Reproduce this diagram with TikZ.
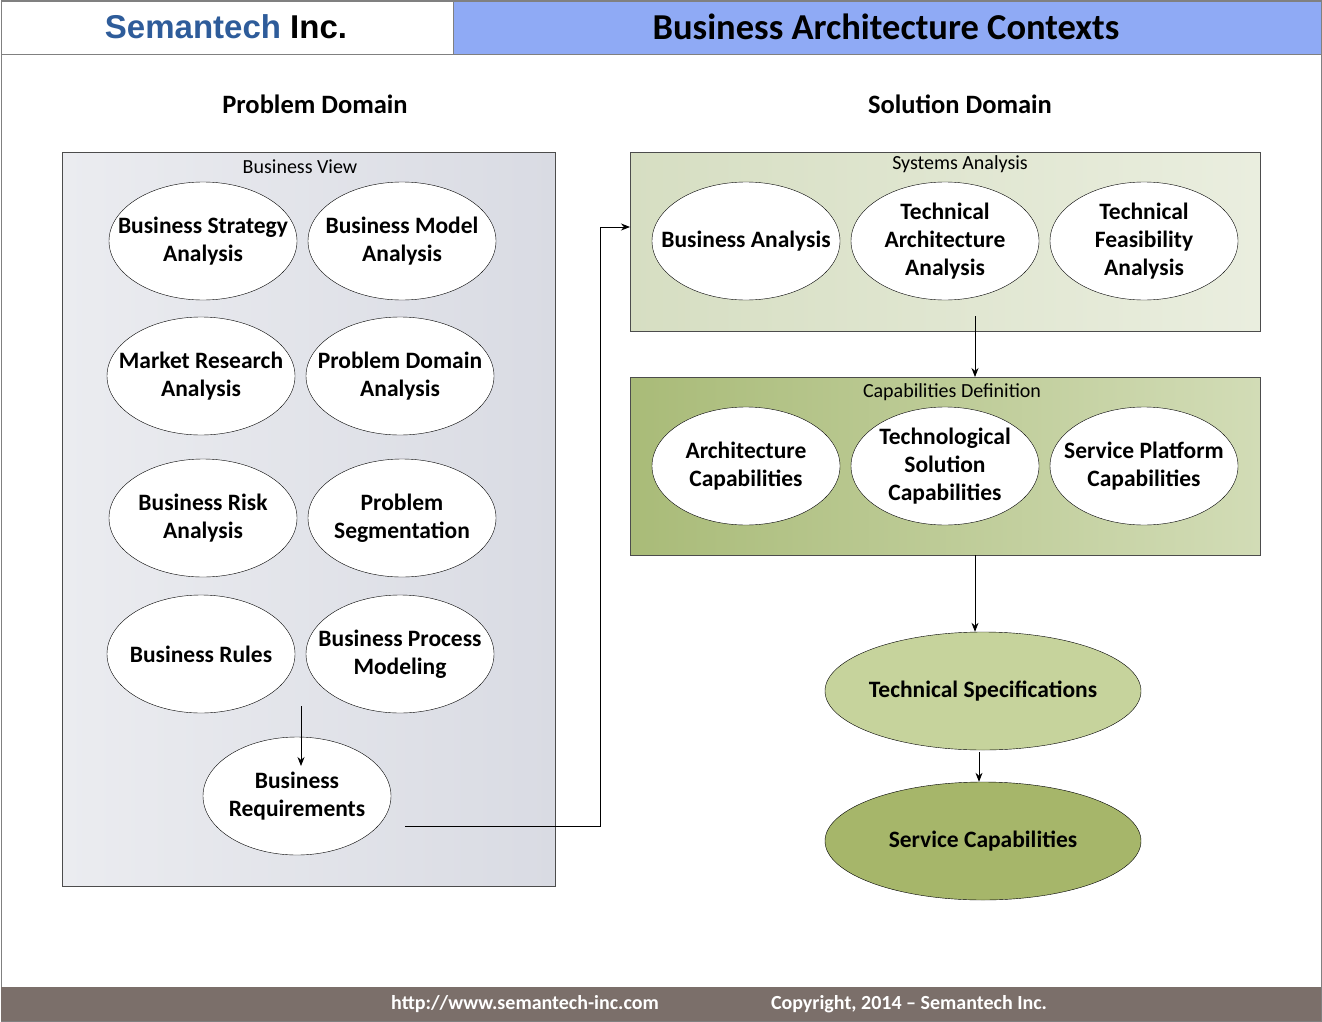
\documentclass[tikz,border=0pt]{standalone}
\usepackage{fontspec}
\setmainfont{Carlito}
\newfontfamily\arialf{Liberation Sans}
\usetikzlibrary{shapes.geometric,arrows.meta}
\definecolor{hdrblue}{HTML}{8FAAF5}
\definecolor{semblue}{HTML}{2E5C9A}
\definecolor{foot}{HTML}{7B6F6A}
\definecolor{bvA}{HTML}{EBECF0}
\definecolor{bvB}{HTML}{D9DBE3}
\definecolor{saA}{HTML}{D6DEC2}
\definecolor{saB}{HTML}{EAEEDF}
\definecolor{cdA}{HTML}{A9BB78}
\definecolor{cdB}{HTML}{D2DCB6}
\definecolor{tsC}{HTML}{C6D39C}
\definecolor{scC}{HTML}{A6B66A}
\begin{document}
\begin{tikzpicture}[x=1pt,y=-1pt,
  ell/.style={ellipse,draw=black,fill=white,minimum width=188pt,minimum height=118pt,inner xsep=-30pt,inner ysep=-14pt,align=center,font=\fontsize{23.5}{28}\selectfont\bfseries},
  bigell/.style={ell,minimum width=316pt},
  arr/.style={-{Stealth[length=9pt,width=7pt]},draw=black,line width=0.8pt},
  boxlbl/.style={font=\fontsize{20}{22}\selectfont,anchor=center}]
\useasboundingbox (0,0) rectangle (1322,1022);
\draw[gray,line width=1pt] (1,1) rectangle (1321,1021);
% header
\node[draw=gray,fill=white,minimum width=452pt,minimum height=53pt,inner sep=0pt,anchor=north west] (hl) at (1,1) {};
\node[draw=gray,fill=hdrblue,minimum width=868pt,minimum height=53pt,inner sep=0pt,anchor=north west] (hr) at (453,1) {};
\node[font=\arialf\fontsize{33}{36}\selectfont\bfseries] (logo) at (226,27) {\textcolor{semblue}{Semantech} Inc.};
\node[font=\fontsize{36.5}{40}\selectfont\bfseries] (title) at (886,27) {Business Architecture Contexts};
% footer
\fill[foot] (1,987) rectangle (1321,1021);
\node[white,font=\fontsize{20}{22}\selectfont\bfseries] (url) at (525,1004) {http://www.semantech-inc.com};
\node[white,font=\fontsize{20}{22}\selectfont\bfseries] (copy) at (909,1004) {Copyright, 2014 – Semantech Inc.};
% domain titles
\node[font=\fontsize{26.5}{30}\selectfont\bfseries] (pd) at (315,104) {Problem Domain};
\node[font=\fontsize{26.5}{30}\selectfont\bfseries] (sd) at (960,104) {Solution Domain};
% business view
\draw[draw=black!70,left color=bvA,right color=bvB] (62,152) rectangle (555,886);
\node[boxlbl] (bv) at (300,167) {Business View};
\node[ell] (bsa) at (203,241) {Business Strategy\\Analysis};
\node[ell] (bma) at (402,241) {Business Model\\Analysis};
\node[ell] (mra) at (201,376) {Market Research\\Analysis};
\node[ell] (pda) at (400,376) {Problem Domain\\Analysis};
\node[ell] (bra) at (203,518) {Business Risk\\Analysis};
\node[ell] (ps) at (402,518) {Problem\\Segmentation};
\node[ell] (br) at (201,654) {Business Rules};
\node[ell] (bpm) at (400,654) {Business Process\\Modeling};
\node[ell] (breq) at (297,796) {Business\\Requirements};
\coordinate (a1) at (301,706);
\coordinate (a2) at (301,766);
\draw[arr] (a1) -- (a2);
% systems analysis
\draw[draw=black!70,left color=saA,right color=saB] (630,152) rectangle (1260,331);
\node[boxlbl] (sal) at (960,164) {Systems Analysis};
\node[ell] (ba) at (746,241) {Business Analysis};
\node[ell] (taa) at (945,241) {Technical\\Architecture\\Analysis};
\node[ell] (tfa) at (1144,241) {Technical\\Feasibility\\Analysis};
% capabilities
\draw[draw=black!70,left color=cdA,right color=cdB] (630,377) rectangle (1260,555);
\node[boxlbl] (cdl) at (952,392) {Capabilities Definition};
\node[ell] (ac) at (746,466) {Architecture\\Capabilities};
\node[ell] (tsc) at (945,466) {Technological\\Solution\\Capabilities};
\node[ell] (spc) at (1144,466) {Service Platform\\Capabilities};
% bottom
\node[bigell,fill=tsC] (ts) at (983,691) {Technical Specifications};
\node[bigell,fill=scC] (sc) at (983,841) {Service Capabilities};
% connectors
\coordinate (c1) at (405,826);
\coordinate (c2) at (630,227);
\draw[arr] (c1) -- (600,826) -- (600,227) -- (c2);
\coordinate (s1) at (975,316);
\coordinate (s2) at (975,377);
\draw[arr] (s1) -- (s2);
\coordinate (s3) at (975,555);
\draw[arr] (s3) -- (ts.north -| s3);
\coordinate (s4) at (979,752);
\draw[arr] (s4) -- (sc.north -| s4);
\end{tikzpicture}
\end{document}
